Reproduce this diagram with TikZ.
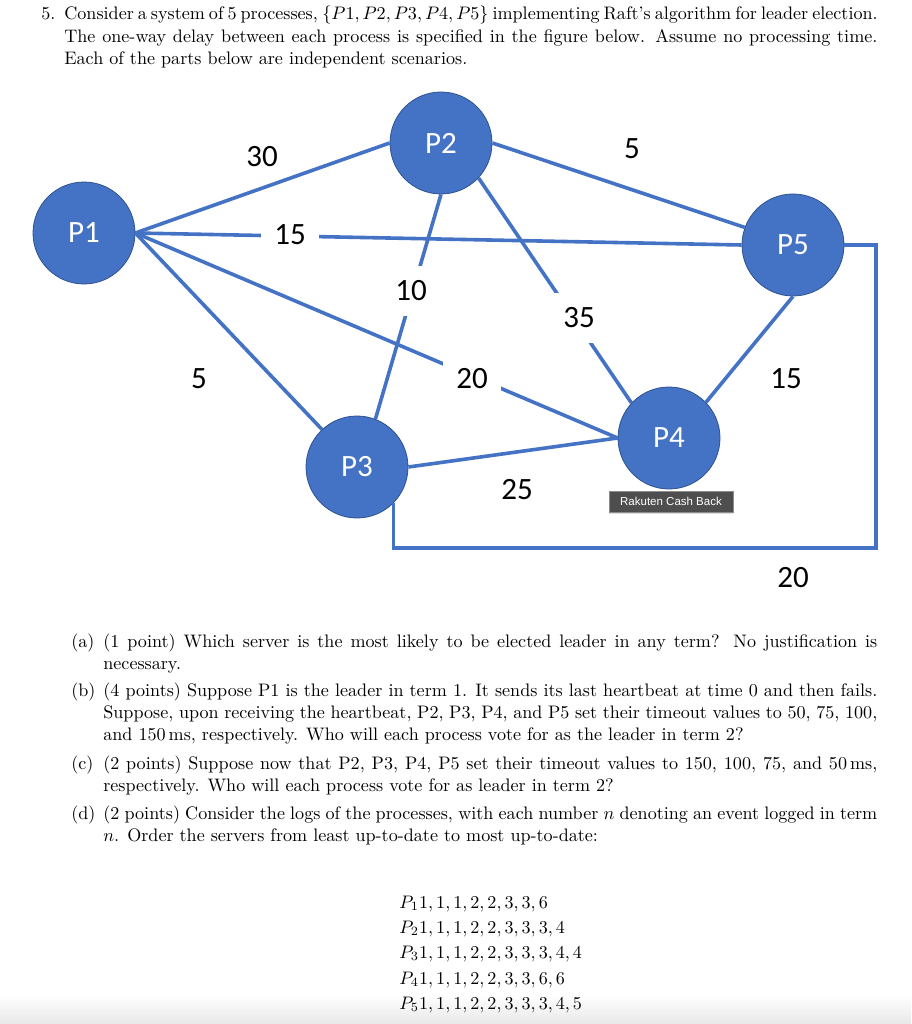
\documentclass[tikz,border=0pt]{standalone}
\usepackage{amsmath}
\usepackage{fontspec}
\newfontfamily\slidefont{Carlito}
\newfontfamily\tagfont{Liberation Sans}
\usetikzlibrary{positioning, calc, shadows}
\definecolor{procblue}{HTML}{4472C4}
\definecolor{procedge}{HTML}{2F528F}
\definecolor{tagbg}{HTML}{4E4E4E}
\tikzset{
  proc/.style  = {circle, fill=procblue, draw=procedge, line width=0.8pt, minimum size=102pt,
                  inner sep=0pt, text=white, font=\slidefont\fontsize{31}{36}\selectfont},
  lnk/.style   = {draw=procblue, line width=3.6pt},
  wt/.style    = {font=\slidefont\fontsize{31}{36}\selectfont, inner sep=0pt},
  gapwt/.style = {wt, fill=white, inner xsep=13pt, inner ysep=15pt},
  num/.style   = {font=\fontsize{10}{12.4}\selectfont, inner sep=0pt, anchor=base west,
                  scale=1.81, transform shape},
  para/.style  = {num, align=justify},
  tag/.style   = {fill=tagbg, draw=black!45, line width=0.5pt, text=white, inner sep=0pt,
                  minimum width=124pt, minimum height=21pt,
                  font=\tagfont\fontsize{11.5}{13}\selectfont,
                  drop shadow={opacity=0.25, shadow xshift=0pt, shadow yshift=-1.5pt}},
}

\begin{document}
\begin{tikzpicture}[x=1pt, y=-1pt]
\useasboundingbox (0,0) rectangle (911,1024);
\shade[top color=white, bottom color=black!9] (0,995) rectangle (911,1024);

% question text
\node[num] (q5) at (41,20) {5.};
\node[para, text width=449.2pt] (intro) at (64,20)
  {Consider a system of 5 processes, $\{P1, P2, P3, P4, P5\}$ implementing Raft's algorithm for leader election.\linebreak The one-way delay between each process is specified in the figure below.  Assume no processing time.\linebreak Each of the parts below are independent scenarios.};

% processes
\node[proc] (p1) at (84,233)  {P1};
\node[proc] (p2) at (441,143) {P2};
\node[proc] (p3) at (357,467) {P3};
\node[proc] (p4) at (669,438) {P4};
\node[proc] (p5) at (793,245) {P5};
\coordinate (loopc) at (876,548);

\draw[lnk] (p1.east) -- (p2.west);
\draw[lnk] (p1.east) -- (p5.west);
\draw[lnk] (p1.east) -- (p3.133);
\draw[lnk] (p1.east) -- (p4.west);
\draw[lnk] (p2.south) -- (p3.69);
\draw[lnk] (p2.-43) -- (p4.137);
\draw[lnk] (p2.east) -- (p5.160);
\draw[lnk] (p3.east) -- (p4.west);
\draw[lnk] (p4.44) -- (p5.south);
\draw[lnk] (p5.east) -| (loopc) -| (p3.-45);

% delays
\node[wt]    (w12) at (262,157) {30};
\node[gapwt] (w15) at (290,235) {15};
\node[wt]    (w13) at (199,379) {5};
\node[gapwt] (w23) at (411,291) {10};
\node[gapwt] (w14) at (472,379) {20};
\node[gapwt] (w24) at (579,318) {35};
\node[wt]    (w25) at (632,149) {5};
\node[wt]    (w45) at (786,379) {15};
\node[wt]    (w34) at (517,490) {25};
\node[wt]    (w35) at (793,578) {20};

\node[tag] (cashback) at (671,501.5) {Rakuten Cash Back};

% parts
\node[num] (la) at (71,647) {(a)};
\node[para, text width=427.6pt] (qa) at (103,647)
  {(1 point) Which server is the most likely to be elected leader in any term?  No justification is necessary.};
\node[num] (lb) at (71,696) {(b)};
\node[para, text width=427.6pt] (qb) at (103,696)
  {(4 points) Suppose P1 is the leader in term 1. It sends its last heartbeat at time 0 and then fails. Suppose, upon receiving the heartbeat, P2, P3, P4, and P5 set their timeout values to 50, 75, 100, and 150\,ms, respectively. Who will each process vote for as the leader in term 2?};
\node[num] (lc) at (71,769) {(c)};
\node[para, text width=427.6pt] (qc) at (103,769)
  {(2 points) Suppose now that P2, P3, P4, P5 set their timeout values to 150, 100, 75, and 50\,ms, respectively. Who will each process vote for as leader in term 2?};
\node[num] (ld) at (71,819) {(d)};
\node[para, text width=427.6pt] (qd) at (103,819)
  {(2 points) Consider the logs of the processes, with each number $n$ denoting an event logged in term $n$. Order the servers from least up-to-date to most up-to-date:};

% logs
\node[num] (log1) at (399,908)  {$P_1 1, 1, 1, 2, 2, 3, 3, 6$};
\node[num] (log2) at (399,933)  {$P_2 1, 1, 1, 2, 2, 3, 3, 3, 4$};
\node[num] (log3) at (399,958)  {$P_3 1, 1, 1, 2, 2, 3, 3, 3, 4, 4$};
\node[num] (log4) at (399,984)  {$P_4 1, 1, 1, 2, 2, 3, 3, 6, 6$};
\node[num] (log5) at (399,1009) {$P_5 1, 1, 1, 2, 2, 3, 3, 3, 4, 5$};
\end{tikzpicture}
\end{document}
